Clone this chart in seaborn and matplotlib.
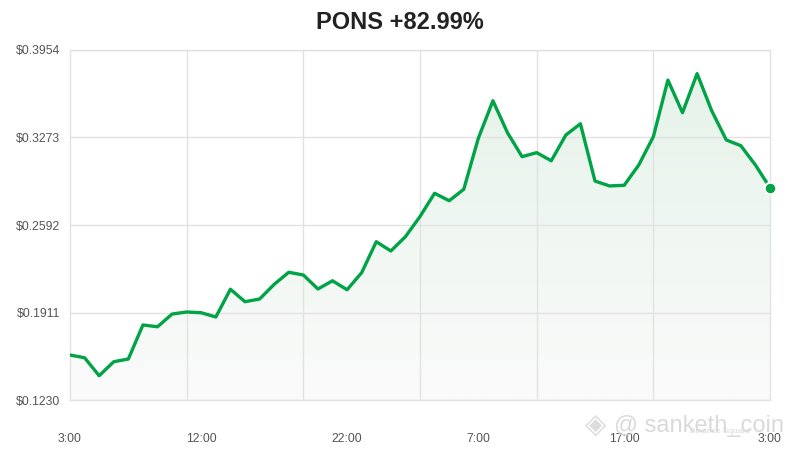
import numpy as np
import pandas as pd
import matplotlib
matplotlib.use("Agg")
import matplotlib.pyplot as plt
import seaborn as sns
from matplotlib.colors import LinearSegmentedColormap
from matplotlib.patches import Polygon

# ---- data ----
hours = list(range(49))
prices = [0.1580, 0.1559, 0.1419, 0.1528, 0.1549, 0.1814, 0.1800, 0.1899, 0.1915, 0.1909,
          0.1876, 0.2092, 0.1995, 0.2016, 0.2130, 0.2224, 0.2203, 0.2094, 0.2158, 0.2088,
          0.2221, 0.2462, 0.2390, 0.2501, 0.2658, 0.2839, 0.2781, 0.2870, 0.3267, 0.3559,
          0.3310, 0.3124, 0.3155, 0.3092, 0.3292, 0.3380, 0.2934, 0.2896, 0.2901, 0.3059,
          0.3279, 0.3720, 0.3466, 0.3770, 0.3482, 0.3254, 0.3209, 0.3059, 0.2882]
y_ticks = [0.1230, 0.1911, 0.2592, 0.3273, 0.3954]
y_tick_labels = ["$0.1230", "$0.1911", "$0.2592", "$0.3273", "$0.3954"]
x_ticks = [0, 9, 19, 28, 38, 48]
x_tick_labels = ["3:00", "12:00", "22:00", "7:00", "17:00", "3:00"]
x_grid = [8, 16, 24, 32, 40]
title = "PONS +82.99%"

df = pd.DataFrame({"hour": hours, "price": prices})

sns.set_theme(style="white")
plt.rcParams['font.family'] = ['Liberation Sans', 'DejaVu Sans']

fig = plt.figure(figsize=(8, 4.5), dpi=100)
ax = fig.add_axes([0.0875, 0.1111, 0.875, 0.7778])

ymin, ymax = y_ticks[0], y_ticks[-1]
xmin, xmax = hours[0], hours[-1]

green = "#00A346"

# gradient fill under the line
cmap = LinearSegmentedColormap.from_list("g", ["#fbfbfb", "#e4f2e8"])
grad = np.linspace(0, 1, 256).reshape(-1, 1)
im = ax.imshow(grad, extent=[xmin, xmax, ymin, ymax], origin="lower",
               aspect="auto", cmap=cmap, zorder=1)
poly_pts = [(xmin, ymin)] + list(zip(hours, prices)) + [(xmax, ymin)]
poly = Polygon(poly_pts, closed=True, facecolor="none", edgecolor="none")
ax.add_patch(poly)
im.set_clip_path(poly)

# grid
for yv in y_ticks:
    ax.axhline(yv, color="#e2e2e2", lw=1, zorder=2)
for xv in x_grid:
    ax.axvline(xv, color="#e2e2e2", lw=1, zorder=2)

sns.lineplot(data=df, x="hour", y="price", ax=ax, color=green, lw=2.4, zorder=4)
ax.scatter([hours[-1]], [prices[-1]], s=70, color=green, edgecolor="white",
           linewidth=1.5, zorder=5, clip_on=False)

ax.set_xlim(xmin, xmax)
ax.set_ylim(ymin, ymax)
ax.set_yticks(y_ticks)
ax.set_yticklabels(y_tick_labels)
ax.set_xticks(x_ticks)
ax.set_xticklabels(x_tick_labels)
ax.tick_params(axis="both", length=0, labelsize=8.8, colors="#555555")
ax.tick_params(axis="y", pad=7)
ax.tick_params(axis="x", pad=24)
ax.set_xlabel("")
ax.set_ylabel("")
for s in ax.spines.values():
    s.set_color("#e2e2e2")
    s.set_linewidth(1)

fig.text(0.5, 0.95, title, ha="center", va="center", fontsize=17,
         fontweight="bold", color="#222222")

# watermark
fig.text(0.745, 0.054, "\u25c8", ha="center", va="center", fontsize=20,
         color="#dcdcdc", zorder=0)
fig.text(0.768, 0.054, "@ sanketh_coin", ha="left", va="center", fontsize=17,
         color="#d4d4d4", alpha=0.85, zorder=0)
fig.text(0.862, 0.042, "Binance Square", ha="left", va="center", fontsize=6,
         color="#d8d8d8", zorder=0)

fig.savefig("out.png", dpi=100)
